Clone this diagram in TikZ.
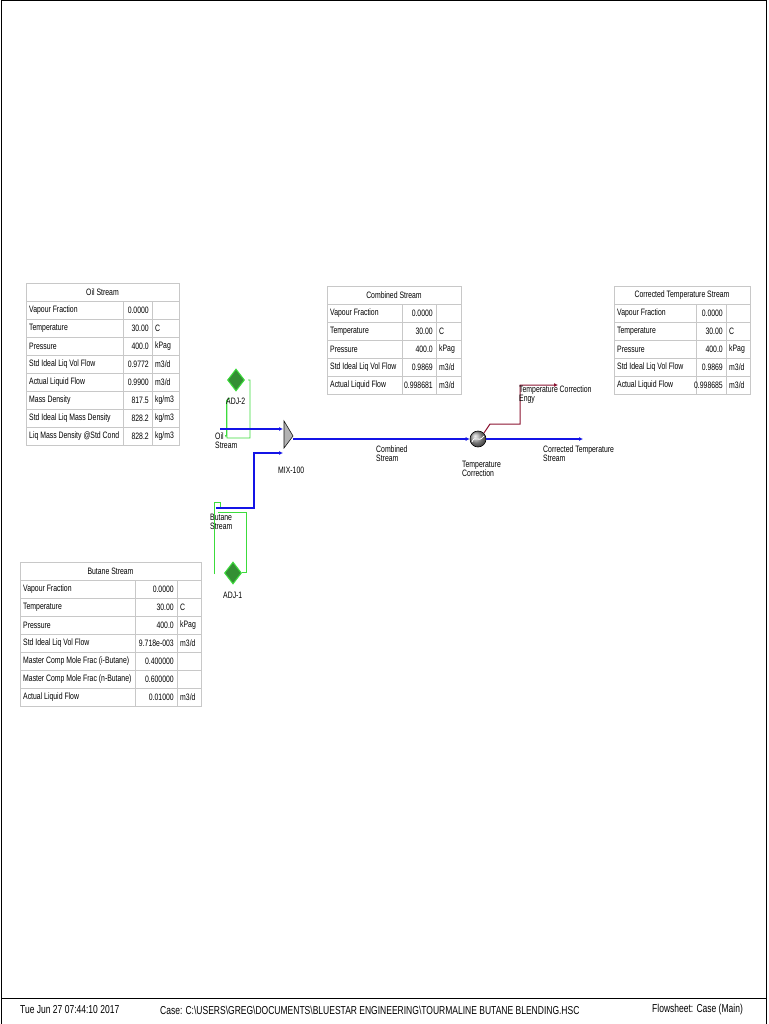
\documentclass[tikz,border=0pt]{standalone}
\usepackage{fontspec}
\setmainfont{Liberation Sans}
\newfontfamily\cf[FakeStretch=0.74]{Liberation Sans}
\usetikzlibrary{arrows.meta,shapes.geometric}
\definecolor{grd}{RGB}{200,200,200}
\definecolor{strm}{RGB}{20,20,230}
\definecolor{adjg}{RGB}{60,220,60}
\definecolor{engy}{RGB}{140,20,50}
\tikzset{
 lbl/.style={font=\cf\fontsize{9.3}{9}\selectfont,align=left,inner sep=0pt,anchor=north west},
 st/.style={strm,line width=1.2pt},
 sarr/.style={strm,line width=1.2pt,-{Latex[length=4pt,width=4pt]}},
 adj/.style={adjg,line width=0.9pt},
 dia/.style={diamond,draw=adjg,fill=green!45!black!80,minimum width=17pt,minimum height=22pt,inner sep=0pt,line width=1pt},
 foot/.style={font=\cf\fontsize{11.5}{11}\selectfont,inner sep=0pt,anchor=west},
}
% \trow{name}{x0}{x1}{x2}{x3}{ytop}{label}{value}{unit}
\newcommand\trow[9]{%
 \draw[grd,line width=0.6pt] (#2,#6) rectangle (#5,#6+18);
 \draw[grd,line width=0.6pt] (#3,#6) -- (#3,#6+18) (#4,#6) -- (#4,#6+18);
 \node[lbl,anchor=west] (#1l) at (#2+3,#6+9) {#7};
 \node[lbl,anchor=east] (#1v) at (#4-3,#6+9) {#8};
 \node[lbl,anchor=west] (#1u) at (#4+3,#6+9) {#9};}
\newcommand\ttitle[5]{% name x0 x3 ytop title
 \draw[grd,line width=0.6pt] (#2,#4) rectangle (#3,#4+18);
 \node[lbl,anchor=center] (#1) at ({(#2+#3)/2},#4+9) {#5};}
\begin{document}
\begin{tikzpicture}[x=1pt,y=-1pt]
\useasboundingbox (0,0) rectangle (768,1024);
\fill[white] (0,0) rectangle (768,1024);
\draw[line width=0.8pt] (1.5,1024) -- (1.5,0.5) -- (766.5,0.5) -- (766.5,1024);
\draw[line width=0.8pt] (1.5,998) -- (766.5,998);
% Oil Stream
\ttitle{oilt}{26}{179}{283}{Oil Stream}
\trow{o1}{26}{123}{152}{179}{301}{Vapour Fraction}{0.0000}{}
\trow{o2}{26}{123}{152}{179}{319}{Temperature}{30.00}{C}
\trow{o3}{26}{123}{152}{179}{337}{Pressure}{400.0}{kPag}
\trow{o4}{26}{123}{152}{179}{355}{Std Ideal Liq Vol Flow}{0.9772}{m3/d}
\trow{o5}{26}{123}{152}{179}{373}{Actual Liquid Flow}{0.9900}{m3/d}
\trow{o6}{26}{123}{152}{179}{391}{Mass Density}{817.5}{kg/m3}
\trow{o7}{26}{123}{152}{179}{409}{Std Ideal Liq Mass Density}{828.2}{kg/m3}
\trow{o8}{26}{123}{152}{179}{427}{Liq Mass Density @Std Cond}{828.2}{kg/m3}
% Combined
\ttitle{cmt}{327}{461}{286}{Combined Stream}
\trow{c1}{327}{402}{436}{461}{304}{Vapour Fraction}{0.0000}{}
\trow{c2}{327}{402}{436}{461}{322}{Temperature}{30.00}{C}
\trow{c3}{327}{402}{436}{461}{340}{Pressure}{400.0}{kPag}
\trow{c4}{327}{402}{436}{461}{358}{Std Ideal Liq Vol Flow}{0.9869}{m3/d}
\trow{c5}{327}{402}{436}{461}{376}{Actual Liquid Flow}{0.998681}{m3/d}
% Corrected
\ttitle{crt}{614}{750}{286}{Corrected Temperature Stream}
\trow{r1}{614}{696}{726}{750}{304}{Vapour Fraction}{0.0000}{}
\trow{r2}{614}{696}{726}{750}{322}{Temperature}{30.00}{C}
\trow{r3}{614}{696}{726}{750}{340}{Pressure}{400.0}{kPag}
\trow{r4}{614}{696}{726}{750}{358}{Std Ideal Liq Vol Flow}{0.9869}{m3/d}
\trow{r5}{614}{696}{726}{750}{376}{Actual Liquid Flow}{0.998685}{m3/d}
% Butane
\ttitle{but}{20}{201}{562}{Butane Stream}
\trow{b1}{20}{135}{177}{201}{580}{Vapour Fraction}{0.0000}{}
\trow{b2}{20}{135}{177}{201}{598}{Temperature}{30.00}{C}
\trow{b3}{20}{135}{177}{201}{616}{Pressure}{400.0}{kPag}
\trow{b4}{20}{135}{177}{201}{634}{Std Ideal Liq Vol Flow}{9.718e-003}{m3/d}
\trow{b5}{20}{135}{177}{201}{652}{Master Comp Mole Frac (i-Butane)}{0.400000}{}
\trow{b6}{20}{135}{177}{201}{670}{Master Comp Mole Frac (n-Butane)}{0.600000}{}
\trow{b7}{20}{135}{177}{201}{688}{Actual Liquid Flow}{0.01000}{m3/d}
% ADJ loops
\draw[adj] (248,380) -- (250,380) -- (250,438) -- (227,438) -- (227,400) -- (230,398);
\draw[adj,-{Latex[length=3pt]}] (226,400) -- (226,438);
\node[dia] (adj2) at (236,380) {};
\node[lbl] (adj2l) at (226,398) {ADJ-2};
\draw[adj] (214,574) -- (214,502) -- (220,502) -- (220,508);
\draw[adj] (218,512) -- (246,512) -- (246,572) -- (242,572);
\node[dia] (adj1) at (233,573) {};
\node[lbl] (adj1l) at (223,592) {ADJ-1};
% mixer
\coordinate (oilS) at (220,429);
\coordinate (butS) at (216,508);
\draw[gray!20!black,line width=0.6pt,fill=gray!60] (284,421) -- (293,436) -- (284,448) -- cycle;
\coordinate (mixin1) at (283,429);
\coordinate (mixin2) at (283,453);
\coordinate (mixout) at (293,439);
\draw[sarr] (oilS) -- (mixin1);
\draw[st] (222,429) -- (226,429);
\draw[sarr] (butS) -- (254,508) -- (254,453) -- (mixin2);
\draw[st] (218,508) -- (222,508);
% combined stream
\node[circle,draw=black,line width=0.6pt,shading=ball,ball color=gray!70,minimum size=16pt,inner sep=0pt] (hx) at (478,439) {};
\draw[white,line width=0.8pt] (472,442) .. controls (475,434) and (478,444) .. (484,436);
\coordinate (cmark) at (393,439);
\draw[st] (mixout) -- (cmark);
\draw[sarr] (cmark) -- (hx.west);
\draw[st] (389,439) -- (395,439);
\coordinate (corr) at (583,439);
\draw[sarr] (hx.east) -- (corr);
\draw[engy,line width=1pt,-{Latex[length=4pt,width=4pt]}] (hx.north east) -- (490,424) -- (520,424) -- (520,385) -- (558,385);
% labels
\node[lbl] (oill) at (215,433) {Oil\\Stream};
\node[lbl] (mixl) at (278,467) {MIX-100};
\node[lbl] (cml) at (376,446) {Combined\\Stream};
\node[lbl] (hxl) at (462,461) {Temperature\\Correction};
\node[lbl] (crl) at (543,446) {Corrected Temperature\\Stream};
\node[lbl] (enl) at (519,386) {Temperature Correction\\Engy};
\node[lbl] (butl) at (210,514) {Butane\\Stream};
% footer
\node[foot] (f1) at (20,1010) {Tue Jun 27 07:44:10 2017};
\node[foot] (f2) at (160,1010) {Case: C:\textbackslash USERS\textbackslash GREG\textbackslash DOCUMENTS\textbackslash BLUESTAR ENGINEERING\textbackslash TOURMALINE BUTANE BLENDING.HSC};
\node[foot] (f3) at (652,1010) {Flowsheet: Case (Main)};
\end{tikzpicture}
\end{document}
